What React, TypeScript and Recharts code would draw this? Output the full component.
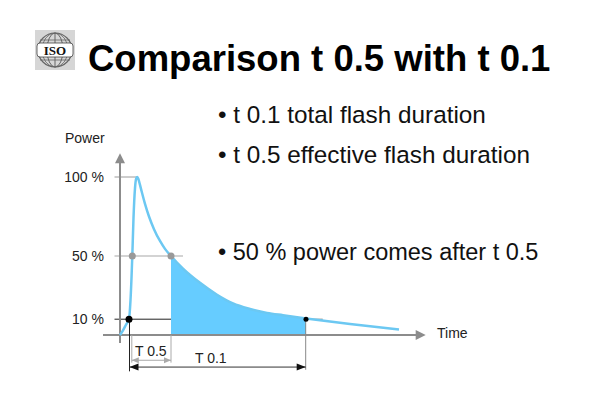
import React from 'react';
import {
  ComposedChart, Line, Area, XAxis, YAxis, ReferenceLine, ReferenceDot,
} from 'recharts';

// ---- data ----
const timeValues = [0, 3, 6, 9, 10.5, 12.3, 13.5, 15, 16.2, 17.3, 18.5, 20, 22, 25, 29, 34, 40, 45, 51, 63, 80, 97, 113, 130, 147, 163, 186, 230, 279];
const powerValues = [0, 3, 6.5, 10, 22, 50, 74, 93, 99, 100, 98.5, 95, 90, 83, 75, 67, 59.5, 54.5, 50, 42, 33, 25.5, 20, 16.5, 14, 12.5, 10.5, 7, 3.5];
const yTicks = [10, 50, 100];
const t10Rise = 9;
const t50Rise = 12.3;
const t50Fall = 51;
const t10Fall = 186;
const peakT = 17.3;

const title = 'Comparison t 0.5 with t 0.1';
const bullets = ['• t 0.1 total flash duration', '• t 0.5 effective flash duration', '• 50 % power comes after t 0.5'];

const data = timeValues.map((t, i) => ({
  t,
  power: powerValues[i],
  fill: t >= t50Fall && t <= t10Fall ? powerValues[i] : null,
}));

const FONT = '"Liberation Sans", Arial, Helvetica, sans-serif';
const CURVE = '#6cc8f2';
const FILL = '#66ccff';
const AXIS = '#8c8c8c';

const upArrow = (color: string) => (p: any) => (
  <polygon points={`${p.cx},${p.cy} ${p.cx - 5},${p.cy + 10} ${p.cx + 5},${p.cy + 10}`} fill={color} />
);
const rightArrow = (color: string, len = 10, half = 5) => (p: any) => (
  <polygon points={`${p.cx},${p.cy} ${p.cx - len},${p.cy - half} ${p.cx - len},${p.cy + half}`} fill={color} />
);
const leftArrow = (color: string, len = 10, half = 5) => (p: any) => (
  <polygon points={`${p.cx},${p.cy} ${p.cx + len},${p.cy - half} ${p.cx + len},${p.cy + half}`} fill={color} />
);

function IsoLogo() {
  const lines = [];
  for (let i = 0; i < 20; i++) {
    lines.push(<line key={i} x1={35} x2={75} y1={31 + i * 2} y2={31 + i * 2} stroke="#c8c8c8" strokeWidth={0.8} />);
  }
  return (
    <g>
      <rect x={35} y={30} width={40} height={40} fill="#e0e0e0" />
      {lines}
      <circle cx={55} cy={50} r={17} fill="none" stroke="#666" strokeWidth={1.2} />
      <ellipse cx={55} cy={50} rx={8} ry={17} fill="none" stroke="#666" strokeWidth={1} />
      <ellipse cx={55} cy={50} rx={13} ry={17} fill="none" stroke="#666" strokeWidth={0.8} />
      <line x1={55} x2={55} y1={33} y2={67} stroke="#666" strokeWidth={1} />
      <line x1={40} x2={70} y1={40} y2={40} stroke="#666" strokeWidth={0.8} />
      <line x1={40} x2={70} y1={60} y2={60} stroke="#666" strokeWidth={0.8} />
      <rect x={37} y={43} width={36} height={14} rx={3} fill="#fff" stroke="#444" strokeWidth={0.8} />
      <text x={55} y={54.5} textAnchor="middle" fontFamily='"Liberation Serif", "Times New Roman", serif' fontWeight="bold" fontSize={13} fill="#111">ISO</text>
    </g>
  );
}

export default function App() {
  return (
    <div style={{ position: 'absolute', left: 0, top: 0, width: 592, height: 395, background: '#fff', fontFamily: FONT }}>
      <ComposedChart
        width={592}
        height={395}
        data={data}
        margin={{ top: 153.3, right: 152, bottom: 12.6, left: 48 }}
      >
        <XAxis dataKey="t" type="number" domain={[-12, 320]} hide allowDataOverflow />
        <YAxis
          type="number"
          domain={[-30, 115]}
          ticks={yTicks}
          width={60}
          axisLine={false}
          tickLine={false}
          tickSize={0}
          tickMargin={4}
          tickFormatter={(v: number) => `${v} %`}
          tick={{ fontSize: 14, fill: '#222', fontFamily: FONT }}
          allowDataOverflow
        />
        {/* filled area between t0.5 and t0.1 */}
        <Area
          dataKey="fill"
          type="monotone"
          baseValue={0}
          stroke="none"
          fill={FILL}
          fillOpacity={1}
          connectNulls={false}
          isAnimationActive={false}
          dot={false}
          activeDot={false}
        />
        {/* reference level lines */}
        <ReferenceLine segment={[{ x: -5.5, y: 100 }, { x: peakT, y: 100 }]} stroke="#9a9a9a" strokeWidth={1} ifOverflow="visible" />
        <ReferenceLine segment={[{ x: -5.5, y: 50 }, { x: 63, y: 50 }]} stroke="#c4c4c4" strokeWidth={1.5} ifOverflow="visible" />
        <ReferenceLine segment={[{ x: -5.5, y: 10 }, { x: t50Fall, y: 10 }]} stroke="#222" strokeWidth={1} ifOverflow="visible" />
        <ReferenceLine segment={[{ x: t10Fall, y: 10 }, { x: 202.7, y: 10 }]} stroke="#777" strokeWidth={1} ifOverflow="visible" />
        {/* axes */}
        <ReferenceLine segment={[{ x: 0, y: -5 }, { x: 0, y: 110 }]} stroke={AXIS} strokeWidth={2} ifOverflow="visible" />
        <ReferenceLine segment={[{ x: -17, y: 0 }, { x: 297, y: 0 }]} stroke={AXIS} strokeWidth={2} ifOverflow="visible" />
        <ReferenceDot x={0} y={115} ifOverflow="visible" shape={upArrow(AXIS)} />
        <ReferenceDot x={305.7} y={0} ifOverflow="visible" shape={rightArrow(AXIS)} />
        {/* extension lines */}
        <ReferenceLine segment={[{ x: t10Rise + 0.5, y: 10 }, { x: t10Rise + 0.5, y: -23 }]} stroke="#222" strokeWidth={1} ifOverflow="visible" />
        <ReferenceLine segment={[{ x: t50Rise - 0.5, y: 0 }, { x: t50Rise - 0.5, y: -17.5 }]} stroke="#aaa" strokeWidth={1} ifOverflow="visible" />
        <ReferenceLine segment={[{ x: t50Fall, y: 0 }, { x: t50Fall, y: -17.5 }]} stroke="#aaa" strokeWidth={1} ifOverflow="visible" />
        <ReferenceLine segment={[{ x: t10Fall - 0.3, y: 10 }, { x: t10Fall - 0.3, y: -22 }]} stroke="#888" strokeWidth={1} ifOverflow="visible" />
        {/* T 0.5 dimension */}
        <ReferenceLine segment={[{ x: t50Rise - 0.5, y: -16 }, { x: t50Fall, y: -16 }]} stroke="#aaa" strokeWidth={1} ifOverflow="visible" />
        <ReferenceDot x={t50Rise - 0.5} y={-16} ifOverflow="visible" shape={leftArrow('#aaa', 7, 3)} />
        <ReferenceDot x={t50Fall} y={-16} ifOverflow="visible" shape={rightArrow('#aaa', 7, 3)} />
        {/* T 0.1 dimension */}
        <ReferenceLine segment={[{ x: t10Rise + 0.5, y: -20.3 }, { x: t10Fall - 0.3, y: -20.3 }]} stroke="#333" strokeWidth={1} ifOverflow="visible" />
        <ReferenceDot x={t10Rise + 0.5} y={-20.3} ifOverflow="visible" shape={leftArrow('#111', 9, 3.5)} />
        <ReferenceDot x={t10Fall - 0.3} y={-20.3} ifOverflow="visible" shape={rightArrow('#111', 9, 3.5)} />
        {/* the curve */}
        <Line
          dataKey="power"
          type="monotone"
          stroke={CURVE}
          strokeWidth={2.5}
          dot={false}
          activeDot={false}
          isAnimationActive={false}
        />
        {/* markers */}
        <ReferenceDot x={t50Rise} y={50} r={3.5} fill="#999" stroke="none" ifOverflow="visible" />
        <ReferenceDot x={t50Fall} y={50} r={3.5} fill="#999" stroke="none" ifOverflow="visible" />
        <ReferenceDot x={t10Rise} y={10} r={3.5} fill="#000" stroke="none" ifOverflow="visible" />
        <ReferenceDot x={t10Fall} y={10} r={2.5} fill="#000" stroke="none" ifOverflow="visible" />
      </ComposedChart>
      <svg width={592} height={395} style={{ position: 'absolute', left: 0, top: 0, pointerEvents: 'none' }}>
        <IsoLogo />
        <text x={88} y={71} fontFamily={FONT} fontWeight="bold" fontSize={36.5} fill="#000">{title}</text>
        <text x={218} y={123} fontFamily={FONT} fontSize={24.3} fill="#111">{bullets[0]}</text>
        <text x={218} y={163} fontFamily={FONT} fontSize={24.3} fill="#111">{bullets[1]}</text>
        <text x={218} y={260} fontFamily={FONT} fontSize={23.5} fill="#111">{bullets[2]}</text>
        <text x={65} y={143} fontFamily={FONT} fontSize={14} fill="#222">Power</text>
        <text x={437} y={338} fontFamily={FONT} fontSize={14} fill="#222">Time</text>
        <text x={135} y={356} fontFamily={FONT} fontSize={14} fill="#222">T 0.5</text>
        <text x={195} y={363} fontFamily={FONT} fontSize={14} fill="#222">T 0.1</text>
      </svg>
    </div>
  );
}
